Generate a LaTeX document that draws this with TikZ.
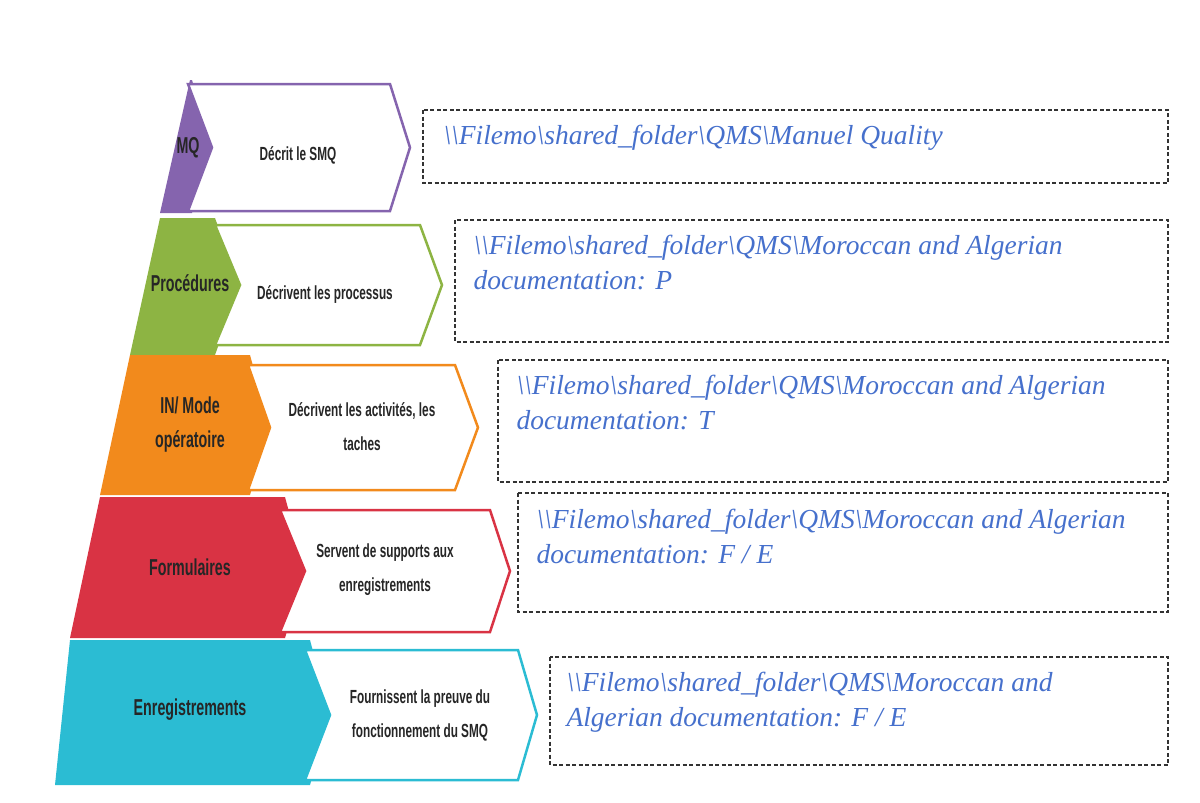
\documentclass[tikz,border=0pt]{standalone}
\usepackage{fontspec}
\setmainfont{Liberation Serif}
\newfontfamily\lsans{Liberation Sans}
\newcommand{\cq}[1]{\scalebox{.62}[1]{#1}}
\newcommand{\bs}{\textbackslash}
\definecolor{cP}{HTML}{8564AE}
\definecolor{cG}{HTML}{8DB443}
\definecolor{cO}{HTML}{F28A1C}
\definecolor{cR}{HTML}{D93344}
\definecolor{cC}{HTML}{2BBCD3}
\definecolor{cB}{HTML}{4670CC}
\begin{document}
\begin{tikzpicture}[x=1pt,y=-1pt,
  lab/.style={font=\lsans\bfseries\fontsize{23}{34}\selectfont, align=center, text=black!85},
  desc/.style={font=\lsans\bfseries\fontsize{19}{34}\selectfont, align=center, text=black!85},
  path/.style={font=\itshape\fontsize{27.5}{35}\selectfont, text=cB, anchor=north west, align=left},
  dbox/.style={draw=black!80, dashed, line width=1.2pt, dash pattern=on 4pt off 2.5pt}]
\useasboundingbox (0,0) rectangle (1200,803);
\foreach \t/\b/\lt/\lb/\cr/\tx/\wl/\wr/\wt/\wa/\wb/\c in {
 80/213/190/160/192/212/188/390/410/84/211/cP,
 218/355/160/130/215/240/215/420/442/225/345/cG,
 355/495/130/100/250/270/248/455/478/365/490/cO,
 497/638/100/70/285/305/280/490/510/510/632/cR,
 640/785/70/55/310/330/305/518/537/650/780/cC}{
 \pgfmathsetmacro{\m}{(\wa+\wb)/2}
 \fill[\c] (\lt,\t) -- (\cr,\t) -- (\tx,\m) -- (\cr,\b) -- (\lb,\b) -- cycle;
 \filldraw[fill=white, draw=\c, line width=2.5pt] (\wl,\wa) -- (\wr,\wa) -- (\wt,\m) -- (\wr,\wb) -- (\wl,\wb) -- (\tx,\m) -- cycle;
}
\node[lab] (l1) at (188,148) {\cq{MQ}};
\node[lab] (l2) at (190,283) {\cq{Procédures}};
\node[lab] (l3) at (190,425) {\cq{IN/ Mode}\\\cq{opératoire}};
\node[lab] (l4) at (190,567) {\cq{Formulaires}};
\node[lab] (l5) at (190,710) {\cq{Enregistrements}};
\node[desc] (d1) at (298,155) {\cq{Décrit le SMQ}};
\node[desc] (d2) at (325,295) {\cq{Décrivent les processus}};
\node[desc] (d3) at (362,427) {\cq{Décrivent les activités, les}\\\cq{taches}};
\node[desc] (d4) at (385,570) {\cq{Servent de supports aux}\\\cq{enregistrements}};
\node[desc] (d5) at (420,715) {\cq{Fournissent la preuve du}\\\cq{fonctionnement du SMQ}};
\draw[dbox] (423,110) rectangle (1168,183);
\draw[dbox] (455,220) rectangle (1168,342);
\draw[dbox] (498,360) rectangle (1168,482);
\draw[dbox] (518,493) rectangle (1168,612);
\draw[dbox] (550,657) rectangle (1168,765);
\node[path] (p1) at (440,122) {\bs\bs Filemo\bs shared\_folder\bs QMS\bs Manuel Quality};
\node[path] (p2) at (470,232) {\bs\bs Filemo\bs shared\_folder\bs QMS\bs Moroccan and Algerian\\documentation: P};
\node[path] (p3) at (513,372) {\bs\bs Filemo\bs shared\_folder\bs QMS\bs Moroccan and Algerian\\documentation: T};
\node[path] (p4) at (533,506) {\bs\bs Filemo\bs shared\_folder\bs QMS\bs Moroccan and Algerian\\documentation: F / E};
\node[path] (p5) at (563,669) {\bs\bs Filemo\bs shared\_folder\bs QMS\bs Moroccan and\\Algerian documentation: F / E};
\end{tikzpicture}
\end{document}
